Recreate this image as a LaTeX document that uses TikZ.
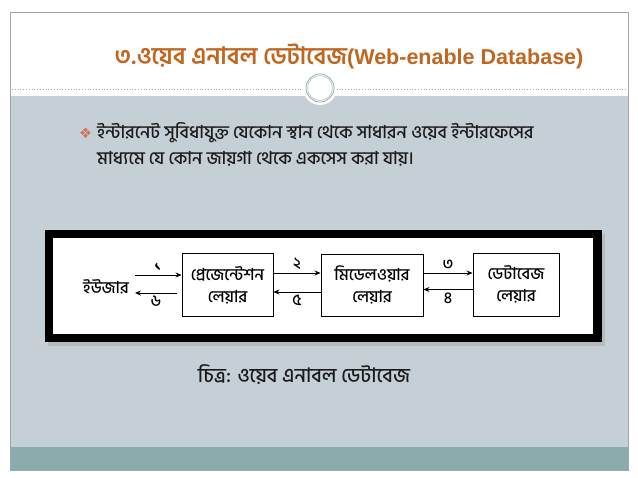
\documentclass[tikz,border=0pt]{standalone}
\usepackage{fontspec}
\setmainfont{Liberation Sans}
\newfontfamily\bn[Script=Bengali]{Hind Siliguri}
\newfontfamily\bnm[Script=Bengali, UprightFont={* Medium}]{Hind Siliguri}
\newfontfamily\dv{DejaVu Sans}
\usetikzlibrary{arrows.meta}
\definecolor{slidegray}{HTML}{C5D0D6}
\definecolor{bandteal}{HTML}{8AACAC}
\definecolor{titleor}{HTML}{C0661F}
\definecolor{bulletred}{HTML}{D6705A}
\definecolor{ringc}{HTML}{7E9C9C}
\definecolor{txt}{HTML}{1A1A1A}
\tikzset{
  layer/.style={draw=black, line width=0.9pt, fill=white, minimum width=#1, minimum height=63pt, align=center, font=\bnm\fontsize{16.5}{22}\selectfont, inner sep=2pt},
  flow/.style={-{Stealth[length=6pt,width=5pt]}, line width=0.8pt},
  num/.style={font=\bnm\fontsize{16}{18}\selectfont, inner sep=1pt},
}
\begin{document}
\begin{tikzpicture}[x=1pt,y=-1pt]
\useasboundingbox (0,0) rectangle (638,478);
\fill[white] (0,0) rectangle (638,478);
\fill[slidegray] (10,96) rectangle (628,447);
\fill[bandteal] (10,447) rectangle (628,470);
\draw[slidegray!80!black, line width=0.5pt] (10,12) rectangle (628,470);
\draw[gray!70, dotted, line width=0.8pt] (12,89) -- (628,89);
\fill[white] (320,88) circle (17);
\draw[ringc, line width=0.6pt] (320,88) circle (14);
\draw[ringc!60, line width=0.6pt] (320,88) circle (12.5);
% title
\node[anchor=base, text=titleor, inner sep=0] (title) at (349,65)
  {{\bn\bfseries\fontsize{24}{30}\selectfont ৩.ওয়েব এনাবল ডেটাবেজ}{\bfseries\fontsize{21.5}{24}\selectfont (Web-enable Database)}};
% bullet text
\node[anchor=base west, text=bulletred, inner sep=0] (bul) at (79,139) {\dv\fontsize{14.5}{16}\selectfont ❖};
\node[anchor=base west, text=txt, inner sep=0] (body1) at (97,139)
  {\bnm\fontsize{17.9}{22}\selectfont ইন্টারনেট সুবিধাযুক্ত যেকোন স্থান থেকে সাধারন ওয়েব ইন্টারফেসের};
\node[anchor=base west, text=txt, inner sep=0] (body2) at (97,165)
  {\bnm\fontsize{17.9}{22}\selectfont মাধ্যমে যে কোন জায়গা থেকে একসেস করা যায়।};
% diagram frame
\fill[gray!55] (48,234) rectangle (605,346);
\fill[black] (45,230) rectangle (602,342);
\fill[white] (53,238) rectangle (593,334);
\node[font=\bnm\fontsize{16.5}{20}\selectfont, inner sep=1pt] (user) at (106,287) {ইউজার};
\node[layer=91pt] (pres) at (227.5,285) {প্রেজেন্টেশন\\লেয়ার};
\node[layer=102pt, minimum height=62pt] (mid) at (372,285) {মিডেলওয়ার\\লেয়ার};
\node[layer=86pt] (db) at (516,284.5) {ডেটাবেজ\\লেয়ার};
\coordinate (u1) at (135,275);
\coordinate (u6) at (177,293);
\draw[flow] (u1) -- (u1 -| pres.west) node[num, midway, above=2pt] {১};
\draw[flow] (u6) -- (135,293) node[num, midway, below=2pt] {৬};
\draw[flow] ([yshift=12pt]pres.east) -- ([yshift=12pt]pres.east -| mid.west) node[num, midway, above=2pt] {২};
\draw[flow] ([yshift=-7pt]mid.west) -- ([yshift=-7pt]mid.west -| pres.east) node[num, midway, below=2pt] {৫};
\draw[flow] ([yshift=12pt]mid.east) -- ([yshift=12pt]mid.east -| db.west) node[num, midway, above=2pt] {৩};
\draw[flow] ([yshift=-5pt]db.west) -- ([yshift=-5pt]db.west -| mid.east) node[num, midway, below=2pt] {৪};
% caption
\node[anchor=base, text=txt, inner sep=0] (cap) at (304,383) {\bnm\fontsize{20}{24}\selectfont চিত্র: ওয়েব এনাবল ডেটাবেজ};
\end{tikzpicture}
\end{document}
